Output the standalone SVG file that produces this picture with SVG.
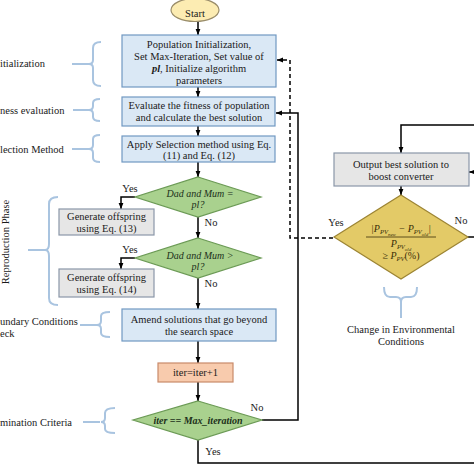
<svg xmlns="http://www.w3.org/2000/svg" width="474" height="474" viewBox="0 0 474 474">
<defs>
<marker id="ah" viewBox="0 0 10 10" refX="10" refY="5" markerWidth="6" markerHeight="6" orient="auto" markerUnits="userSpaceOnUse"><path d="M0,1 L10,5 L0,9 z" fill="#000"/></marker>
<style>
text{font-family:"Liberation Serif","Times New Roman",serif;font-size:10.5px;fill:#1a1a1a}
.blue{fill:#dae8f5;stroke:#7198c2;stroke-width:1.2}
.gray{fill:#e6e6e6;stroke:#8a97a8;stroke-width:1.2}
.peach{fill:#f8cbad;stroke:#c98a6a;stroke-width:1.2}
.green{fill:#a9d18e;stroke:#6b9a55;stroke-width:1.2}
.gold{fill:#e3ca67;stroke:#9c8433;stroke-width:1.2}
.c{text-anchor:middle}
.m{font-style:italic;fill:#20301a;font-size:10px}
.br{fill:none;stroke:#a9c4e0;stroke-width:2}
.ln{fill:none;stroke:#000;stroke-width:1.5}
.f{font-style:italic;fill:#3a2e08;font-size:10px}
</style>
</defs>

<g id="labels">
<text x="0" y="67">itialization</text>
<text x="0" y="114">ness evaluation</text>
<text x="0" y="153">lection Method</text>
<text x="0" y="325">undary Conditions</text>
<text x="0" y="337">eck</text>
<text x="0" y="426">mination Criteria</text>
<text transform="translate(9,242) rotate(-90)" class="c" font-size="12">Reproduction Phase</text>
<text x="401" y="333" class="c">Change in Environmental</text>
<text x="401" y="345" class="c">Conditions</text>
</g>

<g id="brackets">
<path class="br" d="M72,64 H90 M101,42 Q93,42 93,48 V60 Q93,64 89,64 Q93,64 93,68 V80 Q93,86 101,86"/>
<path class="br" d="M73,110 H89 M100,99 Q93,99 93,103 V106 Q93,110 89,110 Q93,110 93,114 V117 Q93,121 100,121"/>
<path class="br" d="M72,149 H89 M100,135 Q93,135 93,139 V145 Q93,149 89,149 Q93,149 93,153 V158 Q93,162 100,162"/>
<path class="br" d="M28,250 H45 M58,197 Q49,197 49,204 V244 Q49,250 45,250 Q49,250 49,256 V298 Q49,305 58,305"/>
<path class="br" d="M80,325 H97 M110,312 Q101,312 101,316 V321 Q101,325 97,325 Q101,325 101,329 V333 Q101,337 110,337"/>
<path class="br" d="M83,422 H100 M115,408 Q105,408 105,413 V418 Q105,422 101,422 Q105,422 105,426 V429 Q105,433 115,433"/>
<path class="br" d="M384,287 Q384,297 390,297 H396 Q401,297 401,302 V318 M401,302 Q401,297 406,297 H411 Q417,297 417,287"/>
</g>

<g id="connectors">
<path class="ln" d="M198,21.5 V35" marker-end="url(#ah)"/>
<path class="ln" d="M198,87 V97" marker-end="url(#ah)"/>
<path class="ln" d="M198,126 V136" marker-end="url(#ah)"/>
<path class="ln" d="M198,162 V177" marker-end="url(#ah)"/>
<path class="ln" d="M198,217 V238" marker-end="url(#ah)"/>
<path class="ln" d="M198,278 V309" marker-end="url(#ah)"/>
<path class="ln" d="M198,341 V363" marker-end="url(#ah)"/>
<path class="ln" d="M198,382 V401" marker-end="url(#ah)"/>
<path class="ln" d="M135,197 H121 V209" marker-end="url(#ah)"/>
<path class="ln" d="M135,258 H121 V269" marker-end="url(#ah)"/>
<path class="ln" d="M262,420 H298 V113 H276" marker-end="url(#ah)"/>
<path class="ln" d="M198,440 V463 H474"/>
<path class="ln" d="M333,238 H290 V60 H277" stroke-dasharray="4,3" marker-end="url(#ah)"/>
<path class="ln" d="M474,125 H401 V153" marker-end="url(#ah)"/>
<path class="ln" d="M474,172 H469" marker-end="url(#ah)"/>
<path class="ln" d="M401,186 V195" marker-end="url(#ah)"/>
<path class="ln" d="M468,237 H474"/>
<text x="130" y="192" class="c">Yes</text>
<text x="211" y="226" class="c">No</text>
<text x="130" y="253" class="c">Yes</text>
<text x="211" y="287" class="c">No</text>
<text x="257" y="411" class="c">No</text>
<text x="213" y="455" class="c">Yes</text>
<text x="336" y="226" class="c">Yes</text>
<text x="461" y="224" class="c">No</text>
</g>

<g id="start">
<ellipse cx="195" cy="10" rx="24" ry="11.5" fill="#fcecb2" stroke="#9a8d6a" stroke-width="1.2"/>
<text x="195" y="17" class="c">Start</text>
</g>

<g id="init">
<rect x="122" y="35" width="154" height="52" class="blue"/>
<text x="199" y="48" class="c">Population Initialization,</text>
<text x="199" y="60" class="c">Set Max-Iteration, Set value of</text>
<text x="199" y="72" class="c"><tspan font-weight="bold" font-style="italic">pl</tspan>, Initialize algorithm</text>
<text x="199" y="84" class="c">parameters</text>
</g>

<g id="fitness">
<rect x="122" y="97" width="153" height="29" class="blue"/>
<text x="199" y="109" class="c">Evaluate the fitness of population</text>
<text x="199" y="121" class="c">and calculate the best solution</text>
</g>

<g id="selection">
<rect x="122" y="136" width="153" height="26" class="blue"/>
<text x="199" y="148" class="c">Apply Selection method using Eq.</text>
<text x="199" y="159" class="c">(11) and Eq. (12)</text>
</g>

<g id="dec1">
<polygon points="198,177 261,197 198,217 135,197" class="green"/>
<text x="200" y="197" class="c m">Dad and Mum  =</text>
<text x="198" y="208" class="c m">pl?</text>
</g>

<g id="gen13">
<rect x="59" y="209" width="95" height="26" class="gray"/>
<text x="106.5" y="220" class="c">Generate offspring</text>
<text x="106.5" y="232" class="c">using Eq. (13)</text>
</g>

<g id="dec2">
<polygon points="198,238 261,258 198,278 135,258" class="green"/>
<text x="200" y="259" class="c m">Dad and Mum &gt;</text>
<text x="198" y="270" class="c m">pl?</text>
</g>

<g id="gen14">
<rect x="59" y="269" width="95" height="28" class="gray"/>
<text x="106.5" y="281" class="c">Generate offspring</text>
<text x="106.5" y="293" class="c">using Eq. (14)</text>
</g>

<g id="amend">
<rect x="122" y="309" width="154" height="32" class="blue"/>
<text x="199" y="323" class="c">Amend solutions that go beyond</text>
<text x="199" y="335" class="c">the search space</text>
</g>

<g id="iter">
<rect x="158" y="363" width="75" height="19" class="peach"/>
<text x="195.5" y="376" class="c">iter=iter+1</text>
</g>

<g id="dec3">
<polygon points="198,401 262,420 198,440 133,420" class="green"/>
<text x="198" y="424" class="c m" font-weight="bold">iter == Max_iteration</text>
</g>

<g id="output">
<rect x="334" y="153" width="135" height="33" class="gray"/>
<text x="401" y="168" class="c">Output best solution to</text>
<text x="401" y="180" class="c">boost converter</text>
</g>

<g id="dec4">
<polygon points="401,195 468,237 401,279 334,237" class="gold"/>
<text x="401" y="232" class="c f">|P<tspan font-size="6.5" dy="2">PV</tspan><tspan font-size="5" dy="1.5">new</tspan><tspan dy="-3.5"> − P</tspan><tspan font-size="6.5" dy="2">PV</tspan><tspan font-size="5" dy="1.5">old</tspan><tspan dy="-3.5">|</tspan></text>
<line x1="366" y1="237" x2="436" y2="237" stroke="#3a2e08" stroke-width="0.8"/>
<text x="401" y="247" class="c f">P<tspan font-size="6.5" dy="2">PV</tspan><tspan font-size="5" dy="1.5">old</tspan></text>
<text x="401" y="259" class="c f">≥ P<tspan font-size="6.5" dy="1.5">PV</tspan><tspan dy="-1.5" font-style="normal">(%)</tspan></text>
</g>
</svg>
